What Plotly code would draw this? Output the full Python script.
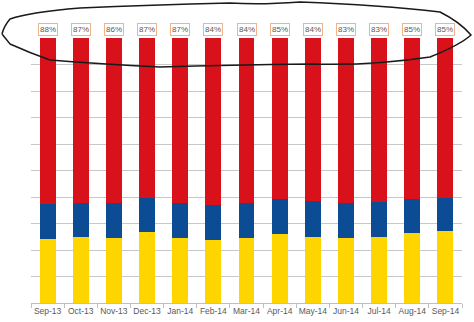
import plotly.graph_objects as go

months = ["Sep-13", "Oct-13", "Nov-13", "Dec-13", "Jan-14", "Feb-14", "Mar-14",
          "Apr-14", "May-14", "Jun-14", "Jul-14", "Aug-14", "Sep-14"]
yellow = [24.0, 24.8, 24.4, 26.8, 24.4, 23.8, 24.4, 25.9, 24.8, 24.6, 24.9, 26.3, 27.2]
blue = [13.4, 12.8, 13.4, 12.9, 13.2, 13.1, 13.2, 13.2, 13.6, 13.2, 13.2, 12.8, 12.3]
labels = ["88%", "87%", "86%", "87%", "87%", "84%", "84%", "85%", "84%", "83%", "83%", "85%", "85%"]
red = [round(100 - y - b, 1) for y, b in zip(yellow, blue)]

fig = go.Figure()
fig.add_bar(x=months, y=yellow, marker=dict(color="#FFD500", line=dict(width=0)))
fig.add_bar(x=months, y=blue, marker=dict(color="#0B4C94", line=dict(width=0)))
fig.add_bar(x=months, y=red, marker=dict(color="#D9111B", line=dict(width=0)))

for m, t in zip(months, labels):
    fig.add_annotation(x=m, y=100, text=t, showarrow=False, yanchor="bottom", yshift=2,
                       font=dict(family="Liberation Sans, Arial", size=8, color="#595959"),
                       bgcolor="white", bordercolor="#F0B48C", borderwidth=1, borderpad=1)

# hand-drawn ellipse (pixel coords -> paper)
L, R, T, B = 31, 462, 38, 303
def px(x, y):
    return (x - L) / (R - L), (B - y) / (B - T)
pts = [(2, 34), (4, 26), (10, 19), (30, 12), (80, 8), (150, 5), (230, 3), (260, 5),
       (300, 2), (380, 5), (440, 12), (460, 22), (471, 35),
       (460, 45), (430, 57), (370, 66), (310, 64), (230, 65), (160, 67), (100, 64),
       (50, 60), (30, 53), (10, 44), (2, 34)]
conv = [px(x, y) for x, y in pts]
path = "M %.4f %.4f" % conv[0]
for i in range(1, len(conv) - 1, 2):
    path += " Q %.4f %.4f %.4f %.4f" % (conv[i] + conv[i + 1])
if (len(conv) - 1) % 2 == 1:
    path += " L %.4f %.4f" % conv[-1]
fig.add_shape(type="path", xref="paper", yref="paper", path=path,
              line=dict(color="#1a1a1a", width=1.5))

fig.update_layout(
    barmode="stack", bargap=0.52, showlegend=False,
    width=474, height=322, margin=dict(l=L, r=474 - R, t=T, b=322 - B, autoexpand=False),
    plot_bgcolor="white", paper_bgcolor="white",
    xaxis=dict(showline=True, linecolor="#BFBFBF", ticks="outside", tickson="boundaries",
               tickcolor="#BFBFBF", ticklen=4, showgrid=False, tickangle=0, automargin=False,
               tickfont=dict(family="Liberation Sans, Arial", size=8.5, color="#595959")),
    yaxis=dict(range=[0, 100], dtick=10, showgrid=True, gridcolor="#C8C8C8",
               showticklabels=False, zeroline=False, showline=False, automargin=False),
)
fig.write_html("out.html")
